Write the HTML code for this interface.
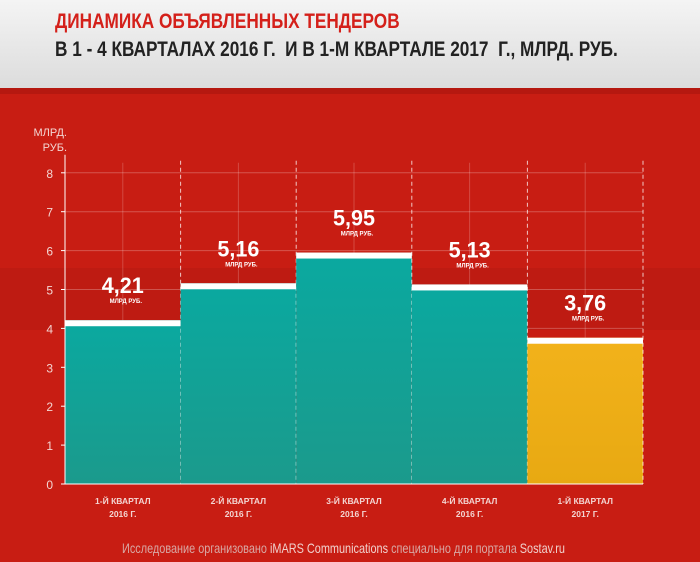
<!DOCTYPE html>
<html><head><meta charset="utf-8"><style>
body{margin:0;width:700px;height:562px;overflow:hidden;font-family:"Liberation Sans","DejaVu Sans",sans-serif}
#wrap{position:relative;width:700px;height:562px;background:#c81d13}
#hdr{position:absolute;left:0;top:0;width:700px;height:88px;background:linear-gradient(#f4f4f4,#dcdcdc)}
</style></head><body>
<div id="wrap">
<div id="hdr">
<div style="position:absolute;left:55px;top:10px;font-size:21px;font-weight:bold;color:#d4201a;transform:scaleX(0.82);transform-origin:left">ДИНАМИКА ОБЪЯВЛЕННЫХ ТЕНДЕРОВ</div>
<div style="position:absolute;left:55px;top:38px;font-size:21px;font-weight:bold;color:#222;transform:scaleX(0.82);transform-origin:left;white-space:pre">В 1 - 4 КВАРТАЛАХ 2016 Г.  И В 1-М КВАРТАЛЕ 2017  Г., МЛРД. РУБ.</div>
</div>
<svg id="chart" width="700" height="562" style="position:absolute;left:0;top:0">
<defs><linearGradient id="tg" x1="0" y1="0" x2="0" y2="1"><stop offset="0" stop-color="#0aa9a0"/><stop offset="1" stop-color="#1b9a8c"/></linearGradient>
<linearGradient id="yg" x1="0" y1="0" x2="0" y2="1"><stop offset="0" stop-color="#f2b21b"/><stop offset="1" stop-color="#e8a912"/></linearGradient></defs>
<rect x="0" y="88" width="700" height="6" fill="#b51810"/>
<rect x="0" y="268" width="700" height="62" fill="#b81a12" opacity="0.6"/>
<g id="g"></g>
<text x="122" y="553" font-size="14" fill="#d8a8a4" textLength="443" lengthAdjust="spacingAndGlyphs">Исследование организовано <tspan fill="#f0d0cc">iMARS Communications</tspan> специально для портала <tspan fill="#f0d0cc">Sostav.ru</tspan></text>
</svg>
</div>
<script>
const categories=["1-Й КВАРТАЛ|2016 Г.","2-Й КВАРТАЛ|2016 Г.","3-Й КВАРТАЛ|2016 Г.","4-Й КВАРТАЛ|2016 Г.","1-Й КВАРТАЛ|2017 Г."];
const values=[4.21,5.16,5.95,5.13,3.76];
const valueLabels=["4,21","5,16","5,95","5,13","3,76"];
const yTicks=[0,1,2,3,4,5,6,7,8];
const NS="http://www.w3.org/2000/svg";
const g=document.getElementById('g');
const x0=65,bw=115.6,y0=484,k=38.9;
const y=v=>y0-v*k, x=i=>x0+i*bw;
function mk(t,a){const e=document.createElementNS(NS,t);for(const p in a)e.setAttribute(p,a[p]);g.appendChild(e);return e;}
yTicks.forEach(t=>{
 if(t>0){const l=mk('line',{x1:x0,x2:x(5),y1:y(t),y2:y(t),stroke:'rgba(255,255,255,0.25)','stroke-width':1});
 }
 const tk=mk('line',{x1:x0-4,x2:x0,y1:y(t),y2:y(t),stroke:'#fff'});
 
 const tx=mk('text',{x:x0-12,y:y(t)+5,'text-anchor':'end','font-size':12,fill:'#f3d5d2'});tx.textContent=t;
 
});
categories.forEach((c,i)=>{
 const cx=x(i)+bw/2;
 const cl=mk('line',{x1:cx,x2:cx,y1:y(8)-10,y2:y0,stroke:'rgba(255,255,255,0.2)'});
 
 const v=values[i];
 const b=mk('rect',{x:x(i),y:y(v),width:bw,height:y0-y(v),fill:i==4?'url(#yg)':'url(#tg)'});
 
 const cap=mk('rect',{x:x(i),y:y(v),width:bw,height:6,fill:'#fff'});
 
 const vl=mk('text',{x:cx,y:y(v)-27,'text-anchor':'middle','font-size':22,'font-weight':'bold',fill:'#fff',textLength:42,lengthAdjust:'spacingAndGlyphs'});vl.textContent=valueLabels[i];
 
 const ul=mk('text',{x:cx+3,y:y(v)-17,'text-anchor':'middle','font-size':6,'font-weight':'bold',fill:'#fff'});ul.textContent='МЛРД РУБ.';
 
 const p=c.split('|');
 p.forEach((s,j)=>{const t=mk('text',{x:cx,y:y0+20+j*13,'text-anchor':'middle','font-size':8.5,'font-weight':'bold',fill:'#f3d5d2'});t.textContent=s;
 });
 const d=mk('line',{x1:x(i+1),x2:x(i+1),y1:y(8)-12,y2:y0,stroke:'rgba(255,255,255,0.75)','stroke-dasharray':'4,3'});
 
});
const ax=mk('line',{x1:x0,x2:x0,y1:y(8)-18,y2:y0,stroke:'#fff'});
const bx=mk('line',{x1:x0,x2:x(5),y1:y0,y2:y0,stroke:'#fff'});
[["МЛРД.",136],["РУБ.",151]].forEach(([s,yy])=>{const t=mk('text',{x:67,y:yy,'text-anchor':'end','font-size':11,fill:'#f3d5d2'});t.textContent=s;
});
</script>
</body></html>
